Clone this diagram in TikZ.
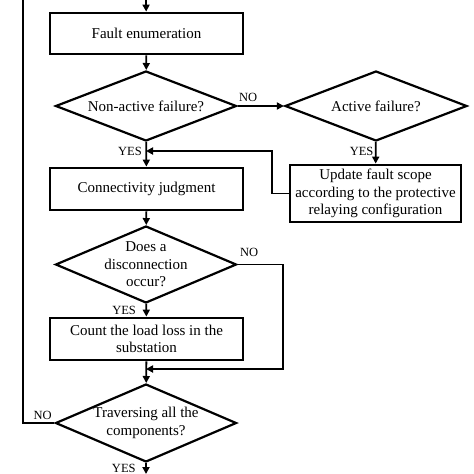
\documentclass[tikz,border=0pt]{standalone}
\usepackage{fontspec}
\setmainfont{Liberation Serif}
\usetikzlibrary{arrows.meta, positioning, shapes.geometric}
\tikzset{
    proc/.style={rectangle, draw=black, line width=2.8pt, minimum width=193pt, minimum height=41pt, align=center, font=\fontsize{15}{17.5}\selectfont},
    dec/.style={diamond, draw=black, line width=2.2pt, aspect=2.6, inner sep=-8pt, minimum width=181pt, minimum height=70pt, align=center, font=\fontsize{15}{17.5}\selectfont},
    flow/.style={-{Triangle[length=7pt,width=7pt]}, line width=1.8pt},
    lbl/.style={font=\fontsize{12.5}{14}\selectfont, inner sep=1.5pt}
}

\begin{document}
\begin{tikzpicture}[x=1pt, y=-1pt]
  \useasboundingbox (0,0) rectangle (474,474);

  \node (fault) [proc] at (146.5,33.5) {Fault enumeration};
  \node (nonact) [dec] at (146,106) {Non-active failure?};
  \node (act) [dec, minimum width=182pt] at (376,106) {Active failure?};
  \node (update) [proc, minimum width=171pt, minimum height=57pt] at (375.5,193.5) {Update fault scope\\according to the protective\\relaying configuration};
  \node (conn) [proc, minimum height=42pt] at (146.5,189) {Connectivity judgment};
  \node (disc) [dec, minimum height=77pt] at (146,264.5) {Does a\\disconnection\\occur?};
  \node (count) [proc, minimum height=42pt] at (146.5,339) {Count the load loss in the\\substation};
  \node (trav) [dec, minimum height=78pt] at (146,423) {Traversing all the\\components?};

  \coordinate (top) at (146,0);
  \coordinate (loop) at (23,0);
  \coordinate (join1) at (146,151);
  \coordinate (join2) at (146,369);
  \coordinate (bot) at (146,474);

  \draw [flow] (top) -- (fault);
  \draw [flow] (fault) -- (nonact);
  \draw [flow] (nonact) -- (act) node [lbl, pos=0, above right, xshift=-1pt, yshift=2pt] {NO};
  \draw [flow] (act) -- (update) node [lbl, pos=0, below left, yshift=-3pt] {YES};
  \draw [flow] (nonact) -- (conn) node [lbl, pos=0, below left, xshift=-2pt, yshift=-3pt] {YES};
  \draw [flow] (update.west) -- ++(-17,0) |- (join1);
  \draw [flow] (conn) -- (disc);
  \draw [flow] (disc) -- (count) node [lbl, pos=0, below left, xshift=-8pt] {YES};
  \draw [flow] (disc.east) -- ++(45,0) node [lbl, pos=0, above right, yshift=5pt] {NO} |- (join2);
  \draw [flow] (count) -- (trav);
  \draw [line width=1.8pt] (trav.west) -| (loop);
  \node [lbl, above left, xshift=-1pt, yshift=2pt] at (trav.west) {NO};
  \draw [flow] (trav) -- (bot) node [lbl, pos=0, below left, xshift=-8pt, yshift=1pt] {YES};
\end{tikzpicture}
\end{document}
